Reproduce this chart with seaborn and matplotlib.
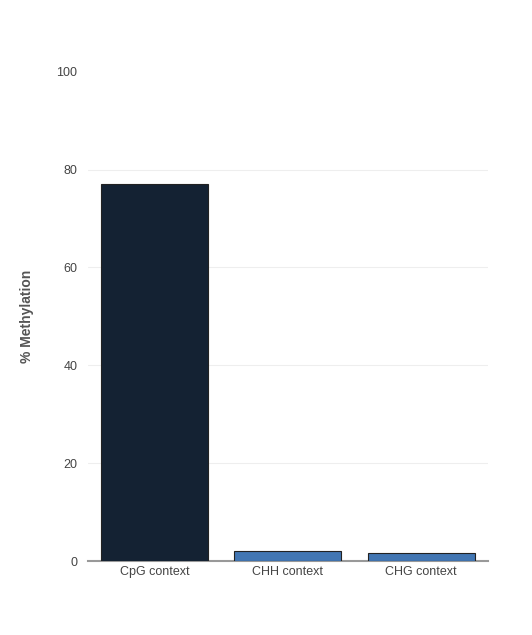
import matplotlib.pyplot as plt
import seaborn as sns
import pandas as pd

categories = ["CpG context", "CHH context", "CHG context"]
methylation = [77.0, 2.1, 1.6]
bar_colors = ["#0f2238", "#2f74c6", "#2f74c6"]
yticks = [0, 20, 40, 60, 80, 100]

df = pd.DataFrame({"context": categories, "value": methylation})

sns.set_style("white")
plt.rcParams["font.family"] = ["Liberation Sans", "DejaVu Sans"]

fig = plt.figure(figsize=(5.32, 6.35), dpi=100)
ax = fig.add_axes([0.165, 0.1165, 0.752, 0.7705])

sns.barplot(data=df, x="context", y="value", hue="context", palette=bar_colors,
            width=0.8, edgecolor="#222222", linewidth=0.8, legend=False, ax=ax, zorder=3)

ax.set_ylim(0, 100)
ax.set_yticks(yticks)
ax.set_yticklabels([str(t) for t in yticks], fontsize=9, color="#444444")
ax.tick_params(axis="x", labelsize=9, colors="#444444", length=0)
ax.tick_params(axis="y", length=4, color="#888888")
for t in yticks[1:-1]:
    ax.axhline(t, color="#eeeeee", linewidth=0.8, zorder=0)

for s in ["top", "right", "left"]:
    ax.spines[s].set_visible(False)
ax.spines["bottom"].set_color("#999999")
ax.spines["bottom"].set_linewidth(1.5)

ax.set_xlabel("")
ax.set_ylabel("% Methylation", fontsize=10, color="#555555", fontweight="bold", labelpad=16)

fig.savefig("out.png", dpi=100)
